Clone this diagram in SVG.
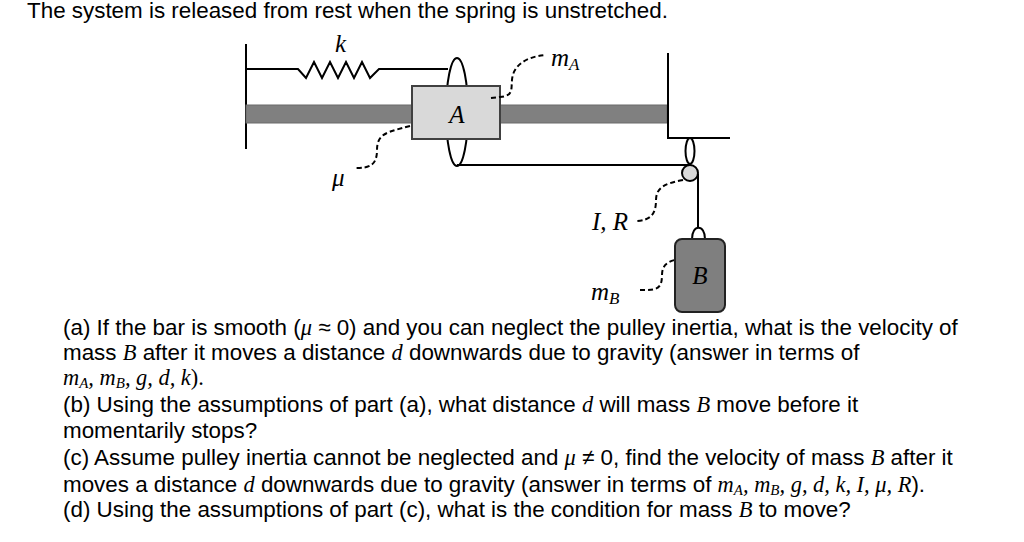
<svg xmlns="http://www.w3.org/2000/svg" width="1024" height="542" viewBox="0 0 1024 542">
<style>
.t{font-family:"Liberation Sans",Arial,sans-serif;font-size:22.4px;fill:#000}
.m{font-family:"Liberation Serif","Times New Roman",serif;font-style:italic}
.ln{fill:none;stroke:#000;stroke-width:2}
.ld{fill:none;stroke:#000;stroke-width:2;stroke-dasharray:5,3}
.lb{font-family:"Liberation Serif","Times New Roman",serif;font-style:italic;font-size:25px;fill:#000}
</style>
<rect width="1024" height="542" fill="#fff"/>
<text class="t" x="27" y="18">The system is released from rest when the spring is unstretched.</text>
<g id="wall-left"><line class="ln" x1="246" y1="44" x2="246" y2="149"/></g>
<g id="bar"><rect x="246" y="105" width="421" height="18" fill="#808080" stroke="#6a6a6a" stroke-width="1"/></g>
<g id="spring"><polyline class="ln" points="246,69 298,69 306,78 314,62 322,78 330,62 338,78 346,62 354,78 362,62 370,78 379,69 448,69"/></g>
<g id="ring"><ellipse class="ln" cx="457" cy="112" rx="11" ry="54"/></g>
<g id="blockA"><rect x="412" y="86" width="88" height="53" fill="#d9d9d9" stroke="#404040" stroke-width="2"/><text class="lb" x="457" y="123" text-anchor="middle">A</text></g>
<g id="wall-right"><polyline class="ln" points="668,53 668,138 730,138"/></g>
<g id="pulley"><ellipse class="ln" cx="690" cy="151" rx="4.5" ry="13"/><circle cx="690" cy="173" r="8" fill="#d9d9d9" stroke="#000" stroke-width="2"/></g>
<g id="connectors">
<line class="ln" x1="457" y1="165" x2="690" y2="165"/>
<line class="ln" x1="698" y1="174" x2="698" y2="228"/>
<path class="ln" d="M692,239 C692,224 705,224 705,239"/>
<path class="ld" d="M491,98 L500,97 C514,96 511,88 512,80 C513,66 525,57 545,55"/>
<path class="ld" d="M410,126 C388,132 377,133 377,150 C377,165 370,168 356,168"/>
<path class="ld" d="M683,180 C668,183 656,186 656,200 C656,215 650,220 637,221"/>
<path class="ld" d="M690,258 C672,259 662,262 662,275 C662,290 656,290 640,290"/>
</g>
<g id="blockB"><rect x="675" y="239" width="50" height="73" rx="7" fill="#7f7f7f" stroke="#222" stroke-width="2"/><text class="lb" x="700" y="284" text-anchor="middle">B</text></g>
<g id="labels">
<text class="lb" x="335" y="52">k</text>
<text class="lb" x="551" y="66">m<tspan font-size="17" dy="4">A</tspan></text>
<text class="lb" x="332" y="186">μ</text>
<text class="lb" x="592" y="230">I, R</text>
<text class="lb" x="591" y="300">m<tspan font-size="17" dy="4">B</tspan></text>
</g>
<g id="questions" class="t">
<text x="63" y="335">(a) If the bar is smooth (<tspan class="m">μ</tspan> ≈ 0) and you can neglect the pulley inertia, what is the velocity of</text>
<text x="63" y="360">mass <tspan class="m">B</tspan> after it moves a distance <tspan class="m">d</tspan> downwards due to gravity (answer in terms of</text>
<text x="63" y="385" class="m">m<tspan font-size="15" dy="3">A</tspan><tspan dy="-3">, m</tspan><tspan font-size="15" dy="3">B</tspan><tspan dy="-3">, g, d, k</tspan><tspan font-style="normal">).</tspan></text>
<text x="63" y="412">(b) Using the assumptions of part (a), what distance <tspan class="m">d</tspan> will mass <tspan class="m">B</tspan> move before it</text>
<text x="63" y="438">momentarily stops?</text>
<text x="63" y="465">(c) Assume pulley inertia cannot be neglected and <tspan class="m">μ</tspan> ≠ 0, find the velocity of mass <tspan class="m">B</tspan> after it</text>
<text x="63" y="492">moves a distance <tspan class="m">d</tspan> downwards due to gravity (answer in terms of <tspan class="m">m<tspan font-size="15" dy="3">A</tspan><tspan dy="-3">, m</tspan><tspan font-size="15" dy="3">B</tspan><tspan dy="-3">, g, d, k, I, μ, R</tspan></tspan>).</text>
<text x="63" y="517">(d) Using the assumptions of part (c), what is the condition for mass <tspan class="m">B</tspan> to move?</text>
</g>
</svg>
